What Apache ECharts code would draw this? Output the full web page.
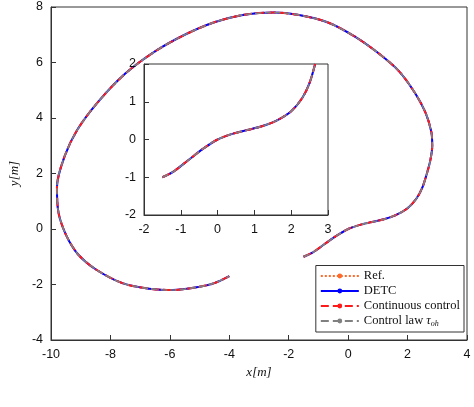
<!DOCTYPE html><html><head><meta charset="utf-8"><script src="https://cdn.jsdelivr.net/npm/echarts@6/dist/echarts.min.js"></script></head><body style="margin:0"><div id="c" style="width:474px;height:407px"></div><script>
const pathX=[-1.5,-1.2,-0.8,-0.4,0,0.4,0.8,1.2,1.6,2.0,2.3,2.5,2.65,2.77,2.83,2.8,2.6,2.25,1.7,1.0,0.2,-0.7,-1.7,-2.5,-3.5,-4.5,-5.5,-6.5,-7.5,-8.4,-9.1,-9.55,-9.8,-9.75,-9.5,-9.1,-8.5,-7.6,-6.7,-5.9,-5.1,-4.5,-4.0];
const pathY=[-1,-0.85,-0.55,-0.25,0,0.15,0.25,0.35,0.5,0.75,1.1,1.5,2.0,2.5,3.0,3.5,4.2,4.9,5.7,6.35,6.95,7.45,7.72,7.8,7.72,7.45,7.0,6.4,5.6,4.6,3.6,2.6,1.5,0.6,-0.2,-0.9,-1.45,-1.95,-2.15,-2.2,-2.1,-1.95,-1.7];
const insetN=13;
const names=['Ref.','DETC','Continuous control','Control law τoh'];
const styles=[{color:'#ff6a2a',type:'dotted',width:2},{color:'#0000ff',type:'solid',width:2},{color:'#ff1a1a',type:'dashed',width:2},{color:'#808080',type:'dashed',width:1.6}];
const pts=pathX.map((x,i)=>[x,pathY[i]]);
const series=[];
names.forEach((n,k)=>{
 series.push({name:n,type:'line',data:pts,smooth:0.3,symbol:'none',xAxisIndex:0,yAxisIndex:0,lineStyle:styles[k],itemStyle:{color:styles[k].color},z:2+k});
 series.push({name:n,type:'line',data:pts.slice(0,insetN),smooth:0.3,symbol:'none',xAxisIndex:1,yAxisIndex:1,lineStyle:styles[k],itemStyle:{color:styles[k].color},z:20+k});
});
const ax={axisLine:{onZero:false,lineStyle:{color:'#333'}},axisTick:{inside:true,lineStyle:{color:'#333'}},splitLine:{show:false},axisLabel:{color:'#111',fontFamily:'Liberation Sans',fontSize:12.5}};
const ch=echarts.init(document.getElementById('c'));
ch.setOption({animation:false,
grid:[{left:40,right:7,top:7,bottom:67,show:true,borderColor:'#333',backgroundColor:'transparent'},{left:144,right:146,top:64,bottom:192,show:true,borderColor:'#333',backgroundColor:'#fff',z:10}],
xAxis:[{type:'value',min:-10,max:4,interval:2,gridIndex:0,...ax,name:'x[m]',nameLocation:'middle',nameGap:26,nameTextStyle:{fontFamily:'Liberation Serif',fontStyle:'italic',fontSize:13,color:'#111'}},
{type:'value',min:-2,max:3,interval:1,gridIndex:1,...ax,z:11}],
yAxis:[{type:'value',min:-4,max:8,interval:2,gridIndex:0,...ax,name:'y[m]',nameLocation:'middle',nameGap:24,nameTextStyle:{fontFamily:'Liberation Serif',fontStyle:'italic',fontSize:13,color:'#111'}},
{type:'value',min:-2,max:2,interval:1,gridIndex:1,...ax,z:11}],
legend:{data:names,orient:'vertical',right:10,bottom:75,itemWidth:38,itemHeight:6,itemGap:2,padding:[4,4],borderColor:'#333',borderWidth:1,backgroundColor:'#fff',
 formatter:n=>n===names[3]?'Control law {t|τ}{s|oh}':n,
 textStyle:{fontFamily:'Liberation Serif',fontSize:12.5,color:'#111',rich:{t:{fontFamily:'Liberation Serif',fontStyle:'italic',fontSize:12.5},s:{fontFamily:'Liberation Serif',fontStyle:'italic',fontSize:8,verticalAlign:'bottom',padding:[6,0,0,0]}}}},
series});
</script></body></html>
